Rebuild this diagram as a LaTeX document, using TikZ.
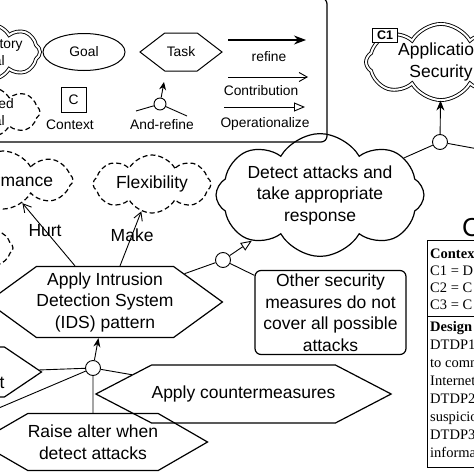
\documentclass[tikz,border=0pt]{standalone}
\usepackage{fontspec}
\setmainfont{Liberation Sans}
\newfontfamily\panelfont{Liberation Serif}
\usetikzlibrary{shapes.symbols,shapes.geometric,arrows.meta}

\begin{document}
\begin{tikzpicture}[x=1pt,y=-1pt,
  every node/.style={inner sep=0pt},
  goaltxt/.style={font=\fontsize{17.5}{21.5}\selectfont,align=center},
  legtxt/.style={font=\fontsize{13.8}{17}\selectfont,align=center},
  paneltxt/.style={font=\panelfont\fontsize{14.5}{17}\selectfont,anchor=base west},
  cloudgoal/.style={cloud,cloud puffs=8,cloud puff arc=120,cloud ignores aspect,draw,line width=1.2pt},
  softgoal/.style={cloudgoal,dash pattern=on 5pt off 3pt},
  mandgoal/.style={cloudgoal,double,double distance=2pt,line width=0.9pt},
  task/.style={signal,signal to=east and west,signal from=nowhere,draw,line width=1.2pt},
  andnode/.style={circle,draw,fill=white,line width=0.9pt,minimum size=15pt},
  link/.style={line width=0.9pt},
  refine/.style={link,-{Stealth[length=10pt,width=8pt]}},
  contrib/.style={link,-{Straight Barb[length=8pt,width=9pt]}},
  oper/.style={link,-{Triangle[open,length=11pt,width=9pt]}}]
\useasboundingbox (0,0) rectangle (474,474);
\fill[white] (0,0) rectangle (474,474);
\clip (0,0) rectangle (474,474);

\node (legend) [draw,rounded corners=6pt,line width=1.2pt,minimum width=350pt,minimum height=144pt] at (152,70) {};
\node (lgmand) [mandgoal,legtxt,minimum width=100pt,minimum height=52pt] at (-10,52) {Mandatory\\Goal};
\node (lgsoft) [softgoal,legtxt,minimum width=100pt,minimum height=50pt] at (-10,112) {Desired\\Goal};
\node (lggoal) [draw,ellipse,line width=1pt,legtxt,minimum width=82pt,minimum height=37pt] at (84,52) {Goal};
\node (lgtask) [task,legtxt,line width=1pt,minimum width=82pt,minimum height=38pt,signal pointer angle=75] at (181,52) {Task};
\coordinate (lgrfa) at (228,40);
\coordinate (lgrfb) at (306,40);
\draw [refine,line width=1.1pt,-{Stealth[length=12pt,width=9pt]}] (lgrfa) -- (lgrfb);
\node (lgrefine) [legtxt] at (269,57) {refine};
\coordinate (lgcta) at (228,77);
\coordinate (lgctb) at (308,77);
\draw [contrib] (lgcta) -- (lgctb);
\node (lgcontrib) [legtxt] at (261,91) {Contribution};
\coordinate (lgopa) at (224,107);
\coordinate (lgopb) at (305,107);
\draw [oper] (lgopa) -- (lgopb);
\node (lgoper) [legtxt] at (265,124) {Operationalize};
\node (lgctx) [draw,line width=1pt,legtxt,minimum size=25pt] at (73.5,100) {C};
\node (lgctxlbl) [legtxt] at (70,125) {Context};
\node (lgand) [andnode,minimum size=12pt] at (160,104) {};
\coordinate (lgandtip) at (164,82);
\coordinate (lgandl) at (136,111);
\coordinate (lgandr) at (187,116);
\draw [refine,-{Stealth[length=8pt,width=7pt]}] (lgand) -- (lgandtip);
\draw [link] (lgandl) -- (lgand);
\draw [link] (lgand) -- (lgandr);
\node (lgandlbl) [legtxt] at (162,125) {And-refine};

\node (c1goal) [mandgoal,goaltxt,minimum width=150pt,minimum height=68pt] at (441,62) {Application\\Security};
\node (c1tag) [draw,fill=white,line width=1pt,font=\bfseries\fontsize{12.5}{12.5}\selectfont,minimum width=25pt,minimum height=14pt] at (385,35.5) {C1};
\node (and1) [andnode] at (440,142) {};
\coordinate (offright) at (500,153);
\node (detect) [cloudgoal,goaltxt,minimum width=196pt,minimum height=85pt] at (320,195) {Detect attacks and\\take appropriate\\response};
\draw [refine] (and1) -- (c1goal);
\draw [link] (and1) -- (detect);
\draw [link] (and1) -- (offright);

\node (perf) [softgoal,goaltxt,minimum width=140pt,minimum height=58pt] at (3,180) {Performance};
\node (flex) [softgoal,goaltxt,minimum width=118pt,minimum height=58pt] at (152,184) {Flexibility};
\node (leftsoft) [softgoal,minimum width=106pt,minimum height=48pt] at (-40,248) {};

\node (ids) [task,goaltxt,minimum width=206pt,minimum height=71pt,signal pointer angle=72] at (105,302) {Apply Intrusion\\Detection System\\(IDS) pattern};
\node (other) [draw,rounded corners=6pt,line width=1.2pt,goaltxt,minimum width=151pt,minimum height=84pt] at (330.5,312.5) {Other security\\measures do not\\cover all possible\\attacks};
\node (and2) [andnode] at (223,260) {};
\draw [oper] (and2) -- (detect);
\draw [link] (and2) -- (ids);
\draw [link] (and2) -- (other);
\draw [contrib] ([xshift=-30pt]ids.north) -- node [goaltxt,pos=0.57] {Hurt} (perf);
\draw [contrib] ([xshift=15pt]ids.north) -- node [goaltxt,pos=0.57] {Make} (flex);

\node (and3) [andnode] at (93,368) {};
\node (logtask) [task,goaltxt,minimum width=108pt,minimum height=50pt,signal pointer angle=68] at (-17,372) {Log\\event};
\node (raise) [task,goaltxt,minimum width=204pt,minimum height=57pt,signal pointer angle=60] at (93,442) {Raise alter when\\detect attacks};
\node (counter) [task,goaltxt,minimum width=227pt,minimum height=58pt,signal pointer angle=55] at (243.5,394) {Apply countermeasures};
\coordinate (offleft) at (-20,416);
\draw [refine,-{Stealth[length=9pt,width=7pt]}] (and3) -- (ids);
\draw [link] (and3) -- (logtask);
\draw [link] (and3) -- (offleft);
\draw [link] (and3) -- (raise);
\draw [link] (and3) -- (counter);

\node (ctxhead) [font=\fontsize{26}{26}\selectfont,anchor=west] at (462,228) {C};
\node (panel) [draw,line width=1pt,minimum width=100pt,minimum height=227pt,anchor=north west] at (427,240) {};
\coordinate (panelsep) at (427,316);
\draw [line width=1pt] (panelsep) -- ++(100,0);
\node (ptctx) [paneltxt,font=\panelfont\bfseries\fontsize{14.5}{17}\selectfont] at (430,258) {Context};
\node (ptc1) [paneltxt] at (430,275) {C1 = D};
\node (ptc2) [paneltxt] at (430,292) {C2 = C};
\node (ptc3) [paneltxt] at (430,309) {C3 = C};
\node (ptdes) [paneltxt,font=\panelfont\bfseries\fontsize{14.5}{17}\selectfont] at (430,331) {Design};
\node (ptd1) [paneltxt] at (430,349) {DTDP1};
\node (ptd1b) [paneltxt] at (430,367) {to comm};
\node (ptd1c) [paneltxt] at (430,385) {Internet};
\node (ptd2) [paneltxt] at (430,403) {DTDP2};
\node (ptd2b) [paneltxt] at (430,421) {suspicious};
\node (ptd3) [paneltxt] at (430,439) {DTDP3};
\node (ptd3b) [paneltxt] at (430,457) {information};
\end{tikzpicture}
\end{document}
